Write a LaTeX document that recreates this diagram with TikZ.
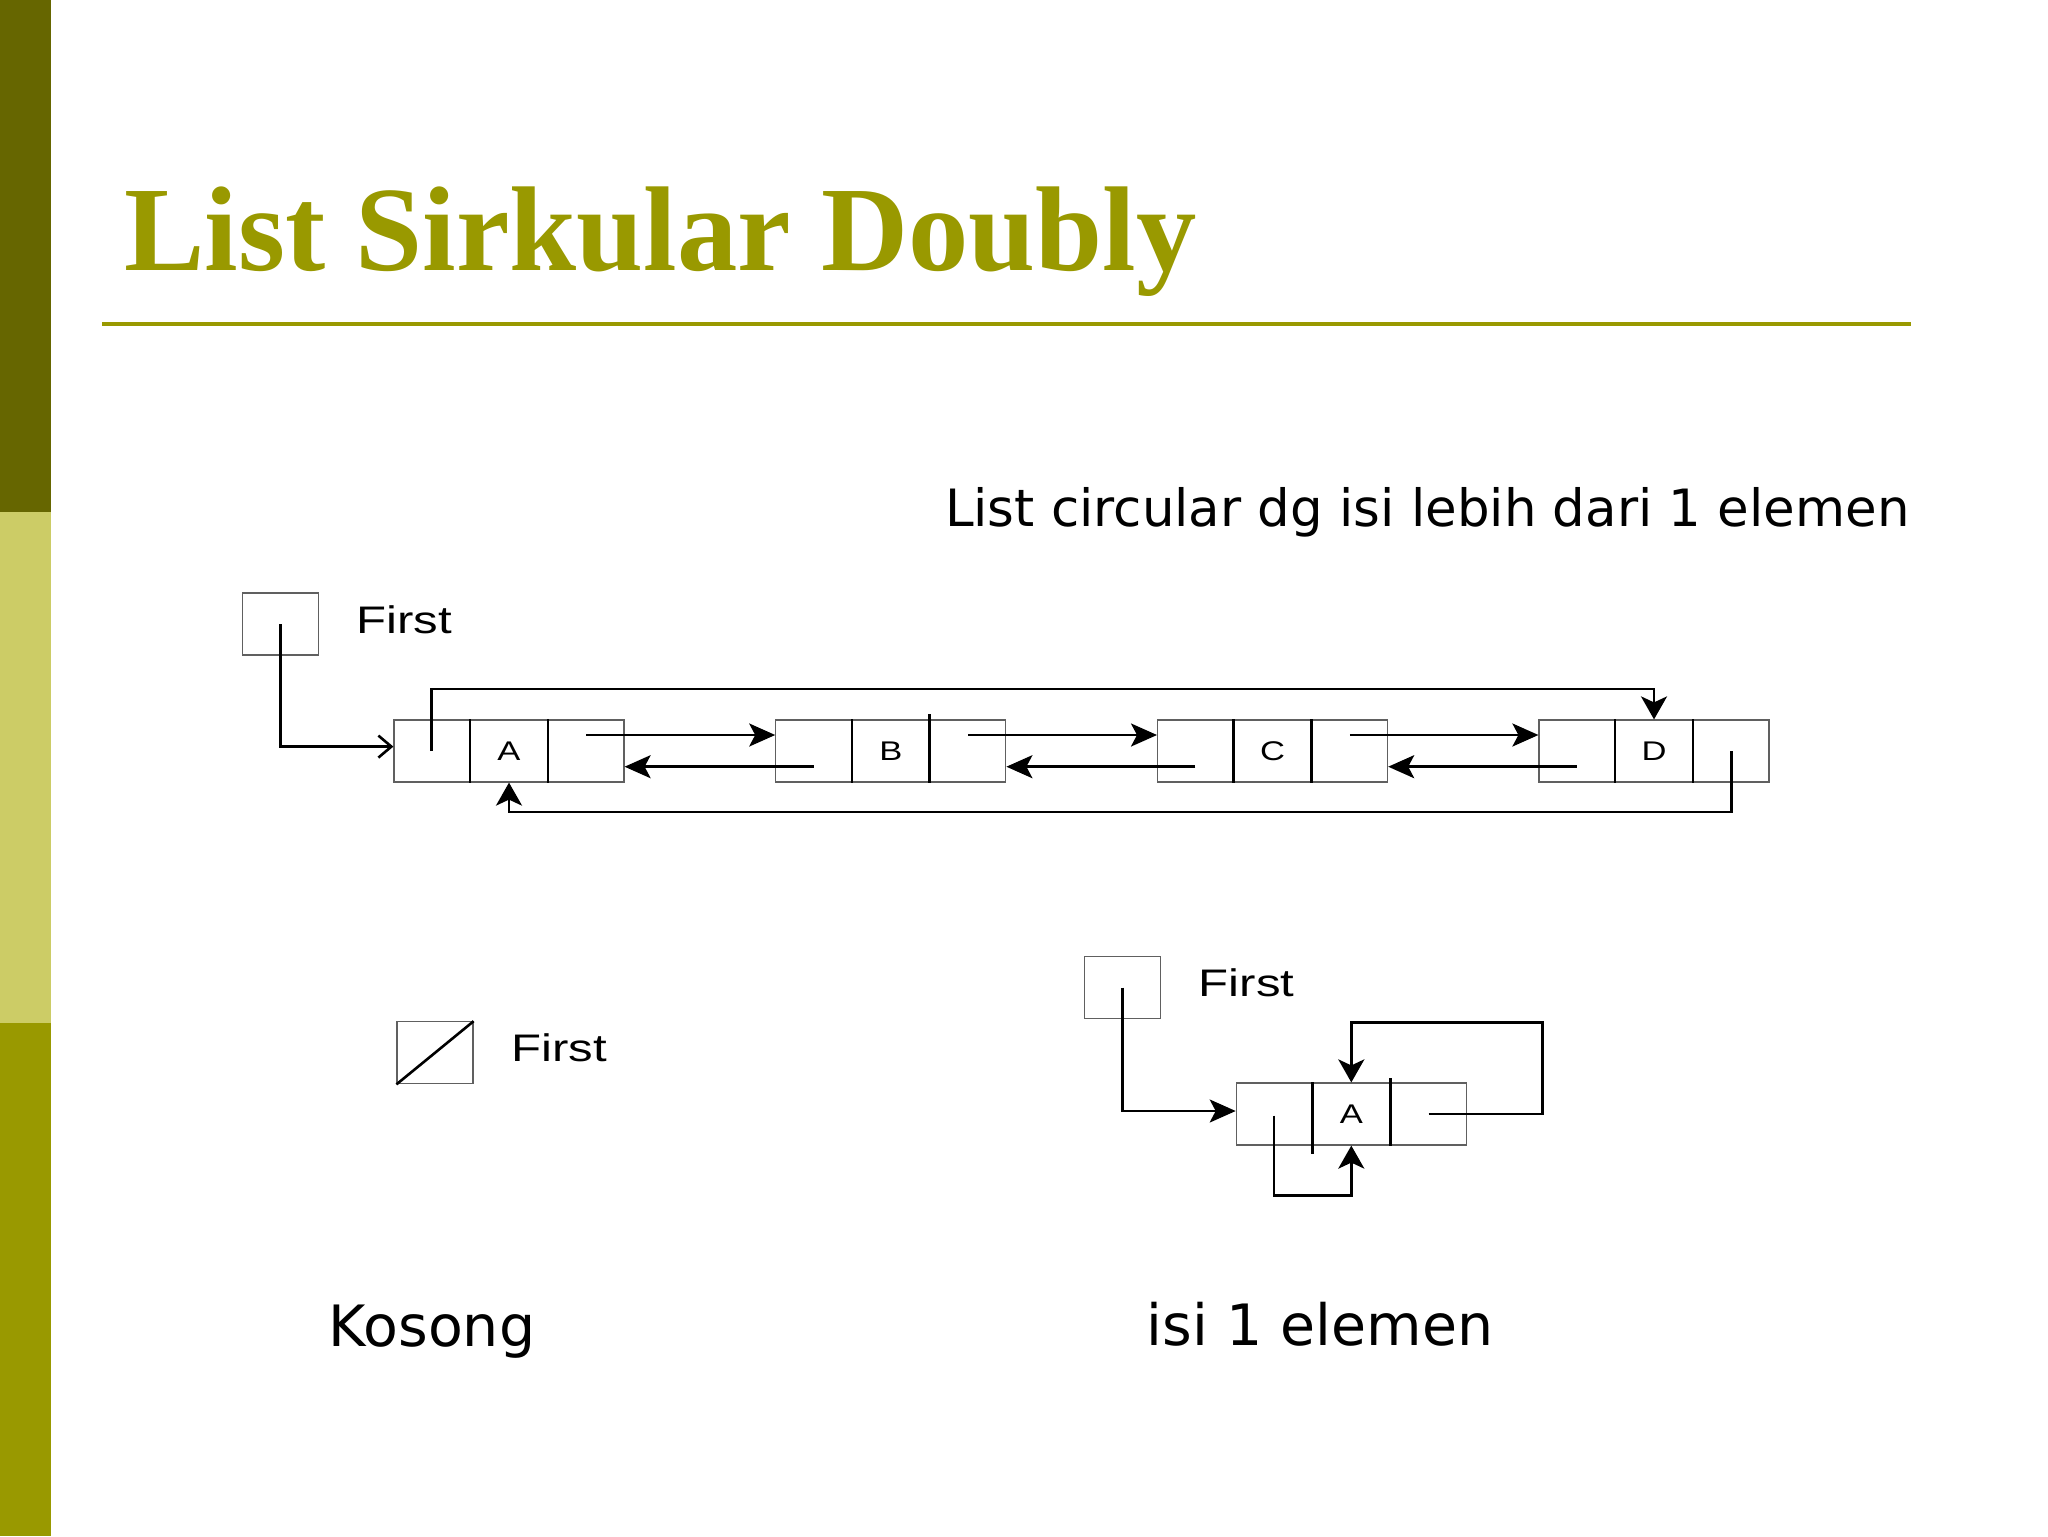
\documentclass[tikz,border=0pt]{standalone}
\usepackage{fontspec}
\usetikzlibrary{arrows.meta,calc}
\newfontfamily\titlefont{Liberation Serif}
\newfontfamily\arialf{Liberation Sans}
\newfontfamily\verdf{DejaVu Sans}
\definecolor{oliveM}{HTML}{999900}
\definecolor{oliveD}{HTML}{666600}
\definecolor{oliveL}{HTML}{CCCC66}
\definecolor{boxgray}{HTML}{606060}
\begin{document}
\begin{tikzpicture}[x=0.5pt,y=-0.5pt,
  lst/.style={draw=boxgray, line width=0.6pt, minimum width=115pt, minimum height=31pt, inner sep=0pt, font=\arialf\fontsize{13.5}{16}\selectfont},
  ptrbox/.style={draw=boxgray, line width=0.6pt, minimum width=38pt, minimum height=31pt, inner sep=0pt},
  lbl/.style={inner sep=0pt, anchor=base, font=\arialf\fontsize{19.2}{23}\selectfont},
  caption/.style={inner sep=0pt, anchor=base, font=\verdf\fontsize{28.5}{34}\selectfont},
  link/.style={line width=1.3pt, black},
  harr/.style={link, -{Stealth[length=13pt,width=11.5pt,inset=3pt]}},
  varr/.style={link, -{Stealth[length=11.5pt,width=13pt,inset=3pt]}},
  openarr/.style={link, -{Straight Barb[length=6.5pt,width=11pt]}},
  divider/.style={link}
]
\useasboundingbox (0,0) rectangle (2048,1536);
\fill[white] (0,0) rectangle (2048,1536);
% left bar
\fill[oliveD] (0,0) rectangle (51,512);
\fill[oliveL] (0,512) rectangle (51,1023);
\fill[oliveM] (0,1023) rectangle (51,1536);
% title
\node[anchor=base west, inner sep=0pt, text=oliveM, font=\titlefont\bfseries\fontsize{60.3}{72}\selectfont] (title) at (124,270.7) {List Sirkular Doubly};
\draw[oliveM, line width=1.75pt] (102,324) -- (1911,324);

\node[inner sep=0pt, anchor=base, font=\verdf\fontsize{25.7}{31}\selectfont] (cap1) at (1427.3,526) {List circular dg isi lebih dari 1 elemen};

% ---------- upper diagram ----------
\node[ptrbox] (f1) at (280.5,624) {};
\node[lbl] (f1l) at (404,633) {\scalebox{1.28}[1]{First}};
\node[lst] (nA) at (509,751) {\scalebox{1.28}[1]{A}};
\node[lst] (nB) at (890.8,751) {\scalebox{1.28}[1]{B}};
\node[lst] (nC) at (1272.6,751) {\scalebox{1.28}[1]{C}};
\node[lst] (nD) at (1654,751) {\scalebox{1.28}[1]{D}};
\foreach \n in {nA,nC,nD}{
  \draw[divider] ([xshift=38.33pt]\n.north west) -- ([xshift=38.33pt]\n.south west);
  \draw[divider] ([xshift=-38.33pt]\n.north east) -- ([xshift=-38.33pt]\n.south east);
}
\draw[divider] ([xshift=38.33pt]nB.north west) -- ([xshift=38.33pt]nB.south west);
\draw[divider] ([xshift=-38.33pt,yshift=2.5pt]nB.north east) -- ([xshift=-38.33pt]nB.south east);

\draw[openarr] (f1.center) |- ([yshift=2.2pt]nA.west);

\draw[harr] ([xshift=-19.17pt,yshift=8pt]nA.east) -- ([yshift=8pt]nB.west);
\draw[harr] ([xshift=-19.17pt,yshift=8pt]nB.east) -- ([yshift=8pt]nC.west);
\draw[harr] ([xshift=-19.17pt,yshift=8pt]nC.east) -- ([yshift=8pt]nD.west);
\draw[harr] ([xshift=19.17pt,yshift=-7.85pt]nB.west) -- ([yshift=-7.85pt]nA.east);
\draw[harr] ([xshift=19.17pt,yshift=-7.85pt]nC.west) -- ([yshift=-7.85pt]nB.east);
\draw[harr] ([xshift=19.17pt,yshift=-7.85pt]nD.west) -- ([yshift=-7.85pt]nC.east);

\coordinate (topy) at (0,689);
\coordinate (a1) at ([xshift=19.17pt]nA.west);
\draw[varr] (a1) -- (a1 |- topy) -| (nD.north);
\coordinate (boty) at (0,812);
\coordinate (d3) at ([xshift=-19.17pt]nD.east);
\draw[varr] (d3) -- (d3 |- boty) -| (nA.south);

% ---------- empty list ----------
\node[ptrbox] (k) at (435,1052.8) {};
\draw[link] (k.south west) -- (k.north east);
\node[lbl] (kl) at (559,1061.7) {\scalebox{1.28}[1]{First}};
\node[caption] (cap2) at (432,1346) {Kosong};

% ---------- one element ----------
\node[ptrbox] (f2) at (1122.5,987.7) {};
\node[lbl] (f2l) at (1246.7,996.7) {\scalebox{1.28}[1]{First}};
\node[lst] (m) at (1351.3,1114) {\scalebox{1.28}[1]{A}};
\draw[divider] ([xshift=38.33pt]m.north west) -- ([xshift=38.33pt,yshift=-4pt]m.south west);
\draw[divider] ([xshift=-38.33pt,yshift=2pt]m.north east) -- ([xshift=-38.33pt]m.south east);
\draw[harr] (f2.center) |- ([yshift=1.5pt]m.west);
\coordinate (m3) at ([xshift=-19.17pt]m.east);
\coordinate (rloop) at (1542.7,1022.7);
\draw[varr] (m3) -| (rloop) -| (m.north);
\coordinate (m1) at ([xshift=19.17pt,yshift=-0.8pt]m.west);
\coordinate (bl) at (0,1195.7);
\draw[varr] (m1) -- (m1 |- bl) -| (m.south);
\node[caption] (cap3) at (1320,1345) {isi 1 elemen};
\end{tikzpicture}
\end{document}
